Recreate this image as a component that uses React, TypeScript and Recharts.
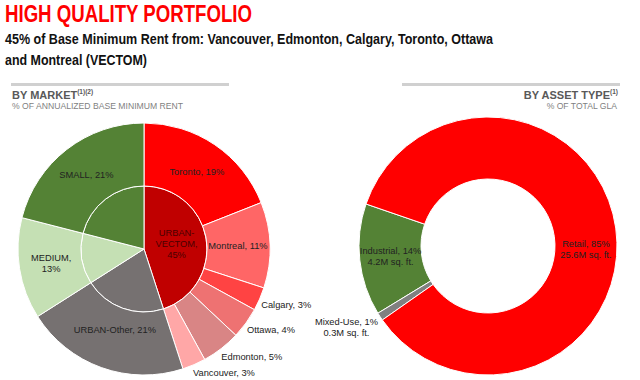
import React from 'react';
import { PieChart, Pie, Cell } from 'recharts';

// By market: outer ring (cities + other groups) and inner ring (groups)
const marketNames = ['Toronto', 'Montreal', 'Calgary', 'Ottawa', 'Edmonton', 'Vancouver', 'URBAN-Other', 'MEDIUM', 'SMALL'];
const marketValues = [19, 11, 3, 4, 5, 3, 21, 13, 21];
const marketColors = ['#FF0000', '#FF6666', '#FF4343', '#EE7272', '#D98585', '#FFA7A7', '#767171', '#C5E0B4', '#548235'];

const groupNames = ['URBAN-VECTOM', 'URBAN-Other', 'MEDIUM', 'SMALL'];
const groupValues = [45, 21, 13, 21];
const groupColors = ['#C00000', '#767171', '#C5E0B4', '#548235'];

// By asset type
const assetNames = ['Industrial', 'Mixed-Use', 'Retail'];
const assetValues = [14, 1, 85];
const assetSqFt = ['4.2M', '0.3M', '25.6M'];
const assetColors = ['#548235', '#808080', '#FF0000'];

const marketData = marketNames.map((name, i) => ({ name, value: marketValues[i] }));
const groupData = groupNames.map((name, i) => ({ name, value: groupValues[i] }));
const assetData = assetNames.map((name, i) => ({ name, value: assetValues[i], sqft: assetSqFt[i] }));

const FONT = '"Liberation Sans", Arial, sans-serif';
const FS = 9.3;
const LH = 11;
const RAD = Math.PI / 180;

const Lines = ({ x, y, lines, anchor = 'middle', fill = '#222' }: any) => {
  const top = y - ((lines.length - 1) * LH) / 2 + FS * 0.35;
  return (
    <text x={x} y={top} textAnchor={anchor} fill={fill} fontSize={FS} fontFamily={FONT}>
      {lines.map((l: string, i: number) => (
        <tspan key={i} x={x} dy={i === 0 ? 0 : LH}>{l}</tspan>
      ))}
    </text>
  );
};

const renderMarketLabel = (props: any) => {
  const { cx, cy, midAngle, name, value } = props;
  const outside = value <= 5;
  if (outside) {
    const r = 131;
    const x = cx + r * Math.cos(-midAngle * RAD) - 3;
    const y = cy + r * Math.sin(-midAngle * RAD) + 4;
    return <Lines x={x} y={y} lines={[`${name}, ${value}%`]} anchor="start" />;
  }
  const r = name === 'URBAN-Other' ? 86 : 94;
  const x = cx + r * Math.cos(-midAngle * RAD);
  const y = cy + r * Math.sin(-midAngle * RAD);
  const lines = name === 'MEDIUM' ? [`${name},`, `${value}%`] : [`${name}, ${value}%`];
  return <Lines x={x} y={y} lines={lines} />;
};

const renderGroupLabel = (props: any) => {
  const { cx, cy, midAngle, name, value } = props;
  if (name !== 'URBAN-VECTOM') return null;
  const r = 33;
  const x = cx + r * Math.cos(-midAngle * RAD);
  const y = cy + r * Math.sin(-midAngle * RAD);
  return <Lines x={x} y={y} lines={['URBAN-', 'VECTOM,', `${value}%`]} fill="#4A0000" />;
};

const renderAssetLabel = (props: any) => {
  const { cx, cy, midAngle, name, value, payload } = props;
  const sqft = payload?.sqft ?? payload?.payload?.sqft;
  let r = 98;
  let a = midAngle;
  if (name === 'Mixed-Use') { r = 163; a = midAngle - 3.5; }
  if (name === 'Retail') a = midAngle - 10;
  const x = cx + r * Math.cos(-a * RAD);
  const y = cy + r * Math.sin(-a * RAD);
  return <Lines x={x} y={y} lines={[`${name}, ${value}%`, `${sqft} sq. ft.`]} />;
};

export default function App() {
  return (
    <div style={{ position: 'absolute', left: 0, top: 0, width: 640, height: 380, background: '#fff', fontFamily: FONT }}>
      <PieChart width={640} height={380} margin={{ top: 0, right: 0, bottom: 0, left: 0 }}>
        <Pie
          data={groupData}
          dataKey="value"
          nameKey="name"
          cx={144}
          cy={249}
          innerRadius={0}
          outerRadius={63}
          startAngle={90}
          endAngle={-270}
          stroke="#fff"
          strokeWidth={1}
          label={renderGroupLabel}
          labelLine={false}
          isAnimationActive={false}
        >
          {groupData.map((d, i) => <Cell key={d.name} fill={groupColors[i]} />)}
        </Pie>
        <Pie
          data={marketData}
          dataKey="value"
          nameKey="name"
          cx={144}
          cy={249}
          innerRadius={63}
          outerRadius={126}
          startAngle={90}
          endAngle={-270}
          stroke="#fff"
          strokeWidth={1}
          label={renderMarketLabel}
          labelLine={false}
          isAnimationActive={false}
        >
          {marketData.map((d, i) => <Cell key={d.name} fill={marketColors[i]} />)}
        </Pie>
        <Pie
          data={assetData}
          dataKey="value"
          nameKey="name"
          cx={488}
          cy={246}
          innerRadius={67}
          outerRadius={129}
          startAngle={161}
          endAngle={521}
          stroke="#fff"
          strokeWidth={1}
          label={renderAssetLabel}
          labelLine={false}
          isAnimationActive={false}
        >
          {assetData.map((d, i) => <Cell key={d.name} fill={assetColors[i]} />)}
        </Pie>
      </PieChart>
      <svg width={640} height={380} style={{ position: 'absolute', left: 0, top: 0, pointerEvents: 'none' }}>
        <text x={5} y={22} fontSize={24} fontWeight="bold" fill="#FF0000" fontFamily={FONT} textLength={247} lengthAdjust="spacingAndGlyphs">
          HIGH QUALITY PORTFOLIO
        </text>
        <text x={5} y={43.5} fontSize={15.5} fontWeight="bold" fill="#111" fontFamily={FONT} textLength={488} lengthAdjust="spacingAndGlyphs">
          45% of Base Minimum Rent from: Vancouver, Edmonton, Calgary, Toronto, Ottawa
        </text>
        <text x={5} y={65} fontSize={15.5} fontWeight="bold" fill="#111" fontFamily={FONT} textLength={142} lengthAdjust="spacingAndGlyphs">
          and Montreal (VECTOM)
        </text>

        <rect x={11} y={83} width={218} height={3} fill="#D0D0D0" />
        <text x={12} y={98.5} fontSize={11} fontWeight="bold" fill="#595959" fontFamily={FONT}>
          BY MARKET<tspan fontSize={6.5} dy={-4.5}>(1)(2)</tspan>
        </text>
        <text x={12} y={109} fontSize={8.5} fill="#7F7F7F" fontFamily={FONT} textLength={171} lengthAdjust="spacingAndGlyphs">
          % OF ANNUALIZED BASE MINIMUM RENT
        </text>

        <rect x={402} y={83} width={218} height={3} fill="#D0D0D0" />
        <text x={618} y={98.5} textAnchor="end" fontSize={11} fontWeight="bold" fill="#595959" fontFamily={FONT}>
          BY ASSET TYPE<tspan fontSize={6.5} dy={-4.5}>(1)</tspan>
        </text>
        <text x={617} y={109} textAnchor="end" fontSize={8.6} fill="#7F7F7F" fontFamily={FONT}>
          % OF TOTAL GLA
        </text>
      </svg>
    </div>
  );
}
